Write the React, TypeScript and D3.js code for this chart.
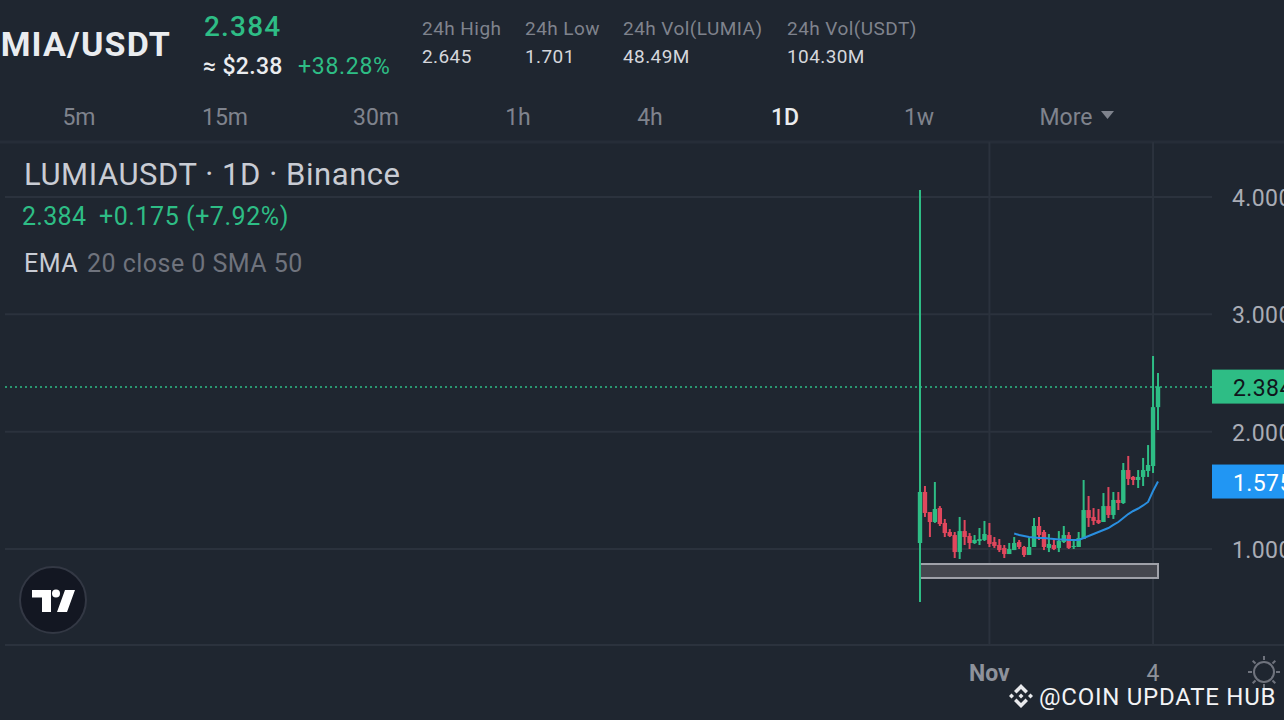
import React, { useRef, useEffect } from 'react';
import * as d3 from 'd3';

// candles, one per day
const opens = [1.051, 1.486, 1.315, 1.230, 1.349, 1.222, 1.145, 1.119, 0.974, 1.153, 1.111, 1.051, 1.068, 1.077, 1.119, 1.060, 1.034, 1.009, 0.957, 0.991, 1.060, 1.017, 0.949, 1.017, 1.196, 1.145, 1.009, 1.034, 1.009, 1.060, 1.119, 1.017, 1.017, 1.085, 1.332, 1.273, 1.247, 1.230, 1.366, 1.290, 1.418, 1.392, 1.673, 1.614, 1.588, 1.614, 1.665, 1.707, 2.209];
const closes = [1.486, 1.307, 1.230, 1.341, 1.213, 1.136, 1.111, 0.974, 1.153, 1.102, 1.051, 1.077, 1.085, 1.128, 1.043, 1.026, 0.991, 0.957, 1.000, 1.051, 1.017, 0.949, 1.017, 1.196, 1.119, 1.017, 1.043, 1.000, 1.068, 1.119, 1.009, 1.026, 1.094, 1.332, 1.264, 1.239, 1.222, 1.366, 1.290, 1.418, 1.392, 1.673, 1.597, 1.588, 1.614, 1.673, 1.716, 2.209, 2.384];
const highs = [4.060, 1.537, 1.315, 1.571, 1.366, 1.256, 1.170, 1.145, 1.273, 1.247, 1.136, 1.119, 1.179, 1.239, 1.222, 1.102, 1.085, 1.034, 1.051, 1.102, 1.077, 1.026, 1.094, 1.264, 1.273, 1.162, 1.128, 1.085, 1.153, 1.196, 1.145, 1.077, 1.145, 1.588, 1.452, 1.349, 1.341, 1.477, 1.528, 1.486, 1.486, 1.733, 1.793, 1.622, 1.673, 1.776, 1.886, 2.645, 2.500];
const lows = [0.548, 1.273, 1.102, 1.222, 1.196, 1.102, 1.102, 0.923, 0.915, 1.034, 1.000, 1.043, 1.034, 1.068, 1.017, 1.009, 0.974, 0.923, 0.957, 0.991, 1.000, 0.932, 0.949, 1.017, 1.077, 0.991, 0.974, 0.991, 0.974, 1.051, 1.000, 1.000, 1.017, 1.085, 1.188, 1.205, 1.213, 1.230, 1.264, 1.256, 1.332, 1.384, 1.545, 1.545, 1.520, 1.537, 1.614, 1.648, 2.014];

// EMA 20 starts at candle 19
const emaStart = 19;
const emaValues = [1.132, 1.119, 1.111, 1.102, 1.098, 1.094, 1.094, 1.089, 1.085, 1.081, 1.081, 1.077, 1.077, 1.077, 1.094, 1.111, 1.128, 1.145, 1.162, 1.179, 1.205, 1.230, 1.264, 1.298, 1.324, 1.345, 1.371, 1.401, 1.494, 1.575];

const priceTicks = [1, 2, 3, 4];
const dayTicks: [number, string][] = [[14, 'Nov'], [47, '4']];
const lastPrice = 2.384;
const emaLast = 1.575;
const boxBottom = 0.753;
const boxTop = 0.872;

const intervals = ['5m', '15m', '30m', '1h', '4h', '1D', '1w', 'More'];
const intervalX = [79, 225, 376, 518, 650, 785, 919, 1066];
const statLabels = ['24h High', '24h Low', '24h Vol(LUMIA)', '24h Vol(USDT)'];
const statValues = ['2.645', '1.701', '48.49M', '104.30M'];
const statX = [422, 525, 623, 787];

const bg = '#1f2630';
const green = '#2ebd85';
const red = '#e0475d';
const grid = '#2b323d';
const font = 'Roboto, sans-serif';

const App: React.FC = () => {
  const svgRef = useRef<SVGSVGElement | null>(null);

  useEffect(() => {
    const svg = d3.select(svgRef.current!);
    svg.selectAll('*').remove();

    const x = d3.scaleLinear().domain([0, 48]).range([920, 1158]);
    const y = d3.scaleLinear().domain([1, 4]).range([549, 197]);

    svg.append('rect').attr('width', 1284).attr('height', 720).attr('fill', bg);

    // frame lines
    svg.append('line').attr('x1', 0).attr('x2', 1284).attr('y1', 142).attr('y2', 142)
      .attr('stroke', '#262d38').attr('stroke-width', 3);
    svg.append('line').attr('x1', 5).attr('x2', 1284).attr('y1', 645).attr('y2', 645)
      .attr('stroke', grid).attr('stroke-width', 2);

    // grid
    svg.append('g').selectAll('line').data(priceTicks).enter().append('line')
      .attr('x1', 5).attr('x2', 1212)
      .attr('y1', (d) => y(d)).attr('y2', (d) => y(d))
      .attr('stroke', grid).attr('stroke-width', 2);
    svg.append('g').selectAll('line').data(dayTicks).enter().append('line')
      .attr('x1', (d) => x(d[0])).attr('x2', (d) => x(d[0]))
      .attr('y1', 142).attr('y2', 645)
      .attr('stroke', grid).attr('stroke-width', 2);

    // last price line
    svg.append('line').attr('x1', 5).attr('x2', 1212)
      .attr('y1', y(lastPrice) + 0.5).attr('y2', y(lastPrice) + 0.5)
      .attr('stroke', green).attr('stroke-width', 1.5).attr('stroke-dasharray', '2 3');

    // grey box drawing
    svg.append('rect')
      .attr('x', x(0)).attr('width', x(48) - x(0))
      .attr('y', y(boxTop)).attr('height', y(boxBottom) - y(boxTop))
      .attr('fill', '#45474f').attr('stroke', '#a0a2aa').attr('stroke-width', 2);

    // candles
    const idx = d3.range(opens.length);
    const col = (i: number) => (closes[i] >= opens[i] ? green : red);
    const candles = svg.append('g');
    candles.selectAll('line').data(idx).enter().append('line')
      .attr('x1', (i) => x(i)).attr('x2', (i) => x(i))
      .attr('y1', (i) => y(highs[i])).attr('y2', (i) => y(lows[i]))
      .attr('stroke', (i) => col(i)).attr('stroke-width', 2);
    candles.selectAll('rect').data(idx).enter().append('rect')
      .attr('x', (i) => x(i) - 2.2).attr('width', 4.4)
      .attr('y', (i) => y(Math.max(opens[i], closes[i])))
      .attr('height', (i) => Math.max(1, Math.abs(y(opens[i]) - y(closes[i]))))
      .attr('fill', (i) => col(i));

    // EMA
    const emaLine = d3.line<number>()
      .x((_, i) => x(i + emaStart))
      .y((d) => y(d));
    svg.append('path').attr('d', emaLine(emaValues))
      .attr('fill', 'none').attr('stroke', '#2a8fe0').attr('stroke-width', 2);

    // price axis
    const axis = svg.append('g').attr('transform', 'translate(1232,1)')
      .call(d3.axisRight(y).tickValues(priceTicks).tickSize(0).tickPadding(0).tickFormat(d3.format('.3f') as any));
    axis.select('.domain').remove();
    axis.selectAll('text').attr('font-family', font).attr('font-size', 23).attr('letter-spacing', 0.4).attr('fill', '#a9acb5');

    // price tags
    const tag = (v: number, fill: string, color: string) => {
      svg.append('rect').attr('x', 1212).attr('y', y(v) - 17).attr('width', 72).attr('height', 34).attr('fill', fill);
      svg.append('text').attr('x', 1233).attr('y', y(v) + 9).attr('font-family', font).attr('font-size', 23)
        .attr('letter-spacing', 0.4).attr('fill', color).text(v.toFixed(3));
    };
    tag(lastPrice, green, '#10151c');
    tag(emaLast, '#2196f3', '#ffffff');

    // time labels
    svg.append('g').selectAll('text').data(dayTicks).enter().append('text')
      .attr('x', (d) => x(d[0])).attr('y', 681)
      .attr('text-anchor', 'middle').attr('font-family', font).attr('font-size', 23)
      .attr('font-weight', (d) => (d[1] === 'Nov' ? 700 : 400))
      .attr('fill', '#8e929b')
      .text((d) => d[1]);

    const label = (tx: number, ty: number, s: string, size: number, fill: string, weight = 400, spacing = 0) =>
      svg.append('text').attr('x', tx).attr('y', ty).attr('font-family', font).attr('font-size', size)
        .attr('font-weight', weight).attr('letter-spacing', spacing).attr('fill', fill).text(s);

    // header
    label(-42, 56, 'LUMIA/USDT', 34, '#eaecef', 700, 1.2);
    label(204, 36, '2.384', 28, green, 500, 1.2);
    label(203, 74, '≈ $2.38', 23, '#eaecef', 500, 0.3);
    label(298, 74, '+38.28%', 23, green, 400, 0.7);
    statLabels.forEach((s, i) => {
      label(statX[i], 35, s, 19, '#7f838d', 400, 0.45);
      label(statX[i], 63, statValues[i], 19, '#d5d7dc', 400, 0.4);
    });

    // interval tabs
    intervals.forEach((s, i) => {
      label(intervalX[i], 125, s, 23, s === '1D' ? '#eaecef' : '#7f838d', s === '1D' ? 500 : 400)
        .attr('text-anchor', 'middle');
    });
    svg.append('path').attr('d', 'M1101,111 L1114,111 L1107.5,119 Z').attr('fill', '#7f838d');

    // legend
    label(24, 185, 'LUMIAUSDT · 1D · Binance', 31, '#c9ccd4', 400, 0.55);
    label(22, 225, '2.384', 25, green, 400, 0.3);
    label(99, 225, '+0.175 (+7.92%)', 25, green, 400, 0.55);
    label(24, 272, 'EMA', 25, '#c9ccd4', 400, 0.5);
    label(87, 272, '20 close 0 SMA 50', 25, '#6f737d', 400, 0.47);

    // tradingview badge
    svg.append('circle').attr('cx', 53).attr('cy', 600).attr('r', 33)
      .attr('fill', '#131722').attr('stroke', '#333844').attr('stroke-width', 2);
    svg.append('path').attr('d', 'M32,590 H51 V612 H42 V597.5 H32 Z M57,612 L65,590 H75 L67,612 Z').attr('fill', '#fff');
    svg.append('circle').attr('cx', 56).attr('cy', 593.5).attr('r', 4).attr('fill', '#fff');

    // sun icon
    const sun = svg.append('g').attr('transform', 'translate(1264,672)')
      .attr('stroke', '#6f737d').attr('stroke-width', 2).attr('fill', 'none');
    sun.append('circle').attr('r', 10);
    d3.range(8).forEach((k) => {
      const a = (k * Math.PI) / 4;
      sun.append('line').attr('x1', 12 * Math.cos(a)).attr('y1', 12 * Math.sin(a))
        .attr('x2', 16 * Math.cos(a)).attr('y2', 16 * Math.sin(a));
    });

    // watermark
    const logo = svg.append('g').attr('transform', 'translate(1021,696)').attr('fill', '#e8e9ec');
    logo.append('path').attr('d', 'M0,-12 L7,-5 L4.5,-2.5 L0,-7 L-4.5,-2.5 L-7,-5 Z');
    logo.append('path').attr('d', 'M0,12 L7,5 L4.5,2.5 L0,7 L-4.5,2.5 L-7,5 Z');
    logo.append('path').attr('d', 'M0,-2.5 L2.5,0 L0,2.5 L-2.5,0 Z');
    logo.append('path').attr('d', 'M-9.5,-2.5 L-7,0 L-9.5,2.5 L-12,0 Z');
    logo.append('path').attr('d', 'M9.5,-2.5 L12,0 L9.5,2.5 L7,0 Z');
    label(1039, 705, '@COIN UPDATE HUB', 24, '#f2f3f5', 400, 0.75);
  }, []);

  return <svg ref={svgRef} width={1284} height={720} style={{ position: 'absolute', left: 0, top: 0 }}></svg>;
};

export default App;
